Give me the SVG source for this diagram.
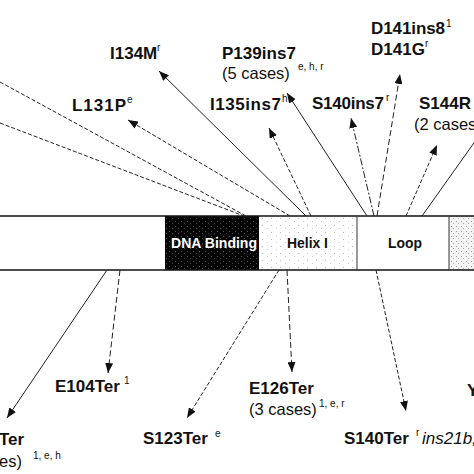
<svg xmlns="http://www.w3.org/2000/svg" width="474" height="474" viewBox="0 0 474 474">
<defs>
<marker id="ah" viewBox="0 0 10 8" refX="10" refY="4" markerWidth="10" markerHeight="8" markerUnits="userSpaceOnUse" orient="auto">
<path d="M0,0 L10,4 L0,8 Z" fill="#111"/>
</marker>
<pattern id="stip" width="9" height="7" patternUnits="userSpaceOnUse">
<rect width="9" height="7" fill="#fff"/>
<rect x="1" y="1" width="1" height="1" fill="#bbb"/>
<rect x="6" y="4" width="1" height="1" fill="#ccc"/>
</pattern>
<pattern id="stip2" width="5" height="5" patternUnits="userSpaceOnUse">
<rect width="5" height="5" fill="#f4f4f4"/>
<rect x="1" y="1" width="1" height="1" fill="#999"/>
<rect x="3" y="3" width="1" height="1" fill="#aaa"/>
</pattern>
<pattern id="dark" width="6" height="5" patternUnits="userSpaceOnUse">
<rect width="6" height="5" fill="#050505"/>
<rect x="1" y="1" width="1" height="1" fill="#555"/>
<rect x="4" y="3" width="1" height="1" fill="#444"/>
</pattern>
</defs>
<style>
.b{font-family:"Liberation Sans",Arial,sans-serif;font-weight:bold;font-size:17px;fill:#111}
.r{font-family:"Liberation Sans",Arial,sans-serif;font-size:16.5px;fill:#111}
.s{font-family:"Liberation Sans",Arial,sans-serif;font-size:10px;fill:#111}
.i{font-family:"Liberation Sans",Arial,sans-serif;font-style:italic;font-size:17px;fill:#111}
.seg{font-family:"Liberation Sans",Arial,sans-serif;font-weight:bold;font-size:15.5px}
.ln{stroke:#222;stroke-width:1;fill:none}
.d1{stroke-dasharray:4 2}
.d2{stroke-dasharray:6 3}
.d3{stroke-dasharray:7 2 2 2}
.a{marker-end:url(#ah)}
</style>
<rect width="474" height="474" fill="#fff"/>

<g id="bar">
<rect x="0" y="216" width="165" height="54" fill="#fff"/>
<rect x="165" y="216" width="94" height="54" fill="url(#dark)"/>
<rect x="259" y="216" width="98" height="54" fill="url(#stip)"/>
<rect x="357" y="216" width="92" height="54" fill="#fff"/>
<rect x="449" y="216" width="25" height="54" fill="url(#stip2)"/>
<line x1="0" y1="216" x2="474" y2="216" stroke="#111" stroke-width="1.6"/>
<line x1="0" y1="270" x2="474" y2="270" stroke="#111" stroke-width="1.4"/>
<line x1="357" y1="216" x2="357" y2="270" stroke="#333" stroke-width="1"/>
<line x1="449" y1="216" x2="449" y2="270" stroke="#333" stroke-width="1"/>
</g>
<g id="seg-dna"><text class="seg" x="171" y="248" fill="#fff" textLength="86" lengthAdjust="spacingAndGlyphs">DNA Binding</text></g>
<g id="seg-helix"><text class="seg" x="287" y="248" fill="#111" textLength="41" lengthAdjust="spacingAndGlyphs">Helix I</text></g>
<g id="seg-loop"><text class="seg" x="388" y="248" fill="#111" textLength="34" lengthAdjust="spacingAndGlyphs">Loop</text></g>

<g id="connectors">
<line class="ln d1" x1="0" y1="82" x2="246" y2="216"/>
<line class="ln d1" x1="0" y1="123" x2="244" y2="216"/>
<line class="ln d1 a" x1="290" y1="216" x2="128" y2="120"/>
<line class="ln a" x1="306" y1="216" x2="159" y2="71"/>
<line class="ln d1 a" x1="311" y1="216" x2="269" y2="128"/>
<line class="ln a" x1="367" y1="216" x2="287" y2="93"/>
<line class="ln d3 a" x1="374" y1="216" x2="351" y2="118"/>
<line class="ln d2 a" x1="377" y1="216" x2="400" y2="74"/>
<line class="ln d1 a" x1="406" y1="216" x2="437" y2="145"/>
<line class="ln" x1="422" y1="216" x2="476" y2="140"/>
<line class="ln a" x1="107" y1="270" x2="7" y2="418"/>
<line class="ln d2 a" x1="120" y1="270" x2="108" y2="373"/>
<line class="ln d1 a" x1="279" y1="270" x2="187" y2="418"/>
<line class="ln d2 a" x1="287" y1="270" x2="292" y2="372"/>
<line class="ln d1 a" x1="376" y1="270" x2="406" y2="411"/>
</g>

<g id="n-I134M"><text class="b" x="110" y="59">I134M</text><text class="s" x="157" y="51">r</text></g>
<g id="n-P139ins7"><text class="b" x="222" y="59" textLength="74">P139ins7</text><text class="r" x="222" y="79">(5 cases)</text><text class="s" x="298" y="70">e, h, r</text></g>
<g id="n-L131P"><text class="b" x="72" y="111" textLength="54">L131P</text><text class="s" x="127" y="103">e</text></g>
<g id="n-I135ins7"><text class="b" x="210" y="110" textLength="71">I135ins7</text><text class="s" x="282" y="102">h</text></g>
<g id="n-S140ins7"><text class="b" x="312" y="109" textLength="72">S140ins7</text><text class="s" x="386" y="101">r</text></g>
<g id="n-D141"><text class="b" x="371" y="34" textLength="74">D141ins8</text><text class="s" x="446" y="27">1</text><text class="b" x="371" y="55">D141G</text><text class="s" x="425" y="47">r</text></g>
<g id="n-S144R"><text class="b" x="419" y="109">S144R</text><text class="r" x="414" y="130">(2 cases</text></g>
<g id="n-E104Ter"><text class="b" x="55" y="392">E104Ter</text><text class="s" x="124" y="384">1</text></g>
<g id="n-Ter"><text class="b" x="-1" y="445">Ter</text><text class="r" x="-1" y="467">es)</text><text class="s" x="33" y="459">1, e, h</text></g>
<g id="n-S123Ter"><text class="b" x="143" y="444">S123Ter</text><text class="s" x="215" y="437">e</text></g>
<g id="n-E126Ter"><text class="b" x="249" y="394">E126Ter</text><text class="r" x="249" y="415">(3 cases)</text><text class="s" x="319" y="407">1, e, r</text></g>
<g id="n-S140Ter"><text class="b" x="344" y="444">S140Ter</text><text class="s" x="416" y="436">r</text><text class="i" x="422" y="444">ins21b,</text></g>
<g id="n-Y"><text class="b" x="467" y="396">Y</text></g>
</svg>
